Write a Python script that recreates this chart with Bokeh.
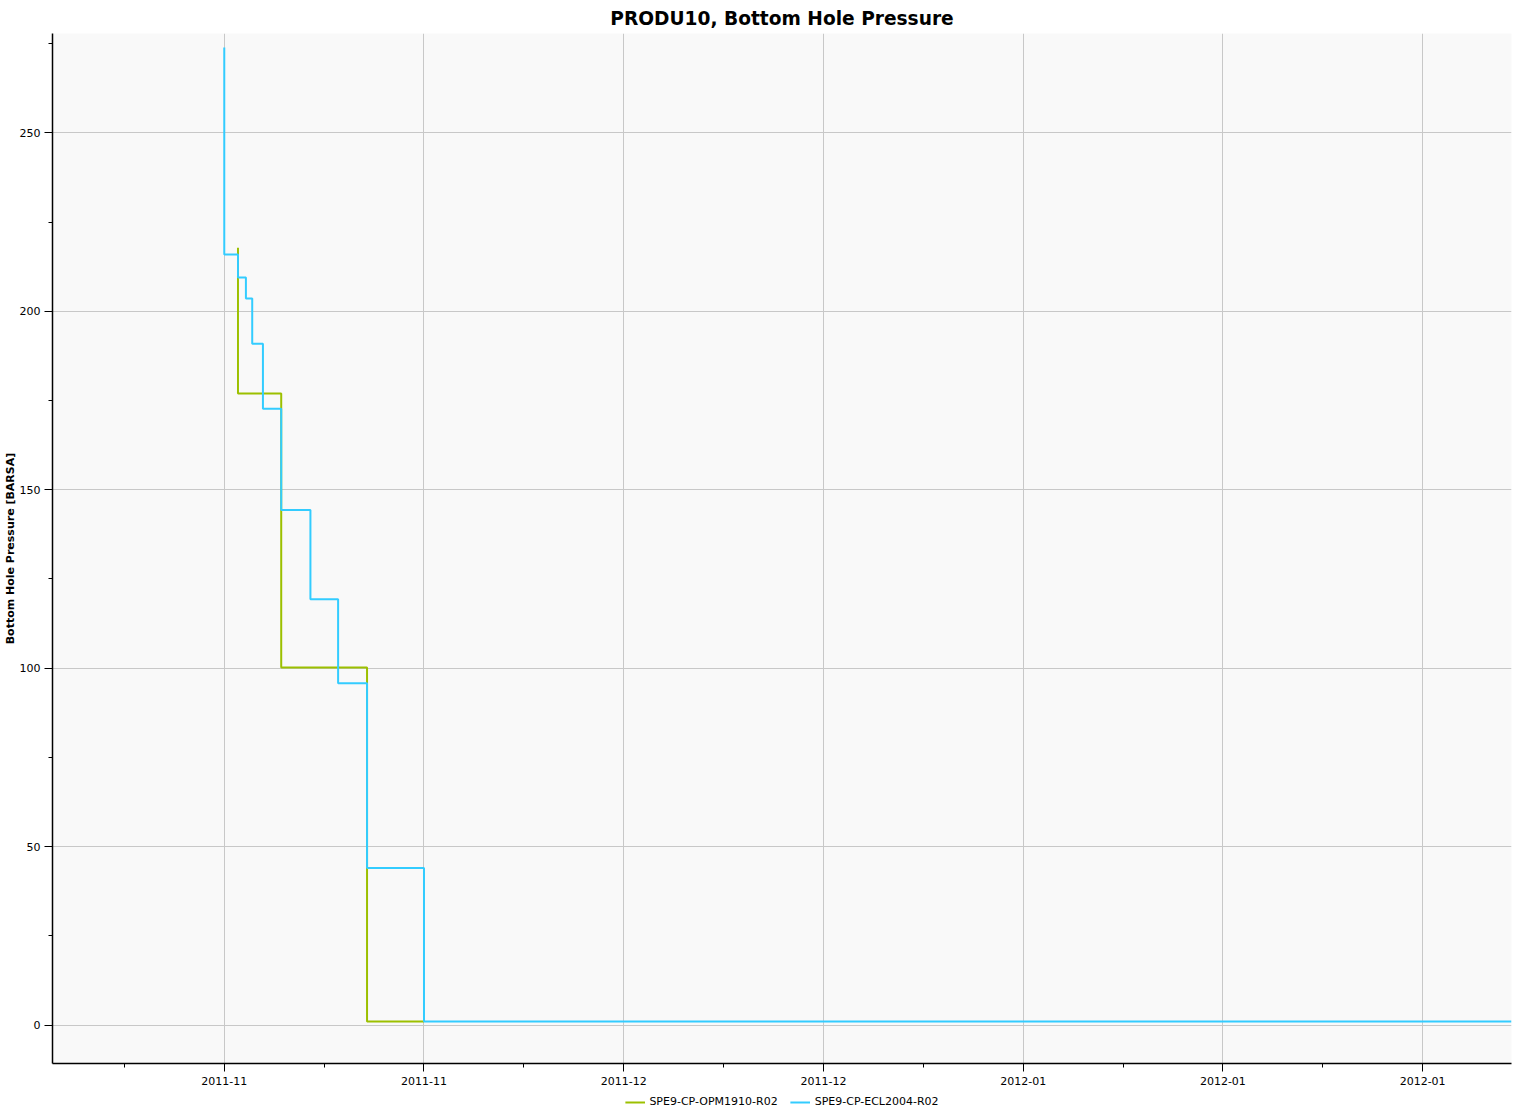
import pandas as pd
from bokeh.plotting import figure
from bokeh.layouts import column
from bokeh.models import (Range1d, FixedTicker, DatetimeTickFormatter, Legend,
                          LegendItem, ColumnDataSource)
from bokeh.embed import file_html
from bokeh.resources import INLINE

# ---- data ----
# (the OPM curve's tail at ~1 bar is hidden beneath the ECL curve after 2011-11-16)
opm_time = ["2011-11-02 01:12", "2011-11-05 08:42", "2011-11-11 22:30",
            "2011-11-16 07:12"]
opm_bhp = [217.8, 177.0, 100.2, 1.0]

ecl_time = ["2011-11-01 00:00", "2011-11-02 01:12", "2011-11-02 15:48",
            "2011-11-03 03:24", "2011-11-03 23:06", "2011-11-05 08:42",
            "2011-11-07 14:24", "2011-11-09 17:18", "2011-11-11 22:30",
            "2011-11-16 07:12", "2012-02-07 14:36"]
ecl_bhp = [273.9, 215.9, 209.5, 203.6, 190.9, 172.7, 144.3, 119.3, 95.8, 44.0, 1.0]

x_ticks = ["2011-11-01 00:00", "2011-11-16 07:12", "2011-12-01 14:24",
           "2011-12-16 21:36", "2012-01-01 04:48", "2012-01-16 12:00",
           "2012-01-31 19:12"]
y_ticks = [0, 50, 100, 150, 200, 250]
y_minor_ticks = [25, 75, 125, 175, 225, 275]

series_names = ["SPE9-CP-OPM1910-R02", "SPE9-CP-ECL2004-R02"]
series_colors = ["#9cc000", "#33ccff"]

# ---- build ----
def ms(s):
    return pd.Timestamp(s).value / 1e6

tick_ms = [ms(t) for t in x_ticks]
step = tick_ms[1] - tick_ms[0]
minor_ms = [t - step / 2 for t in tick_ms] + [tick_ms[-1] + step / 2]

x_start = tick_ms[0] - 0.86 * step
x_end = ms(ecl_time[-1])

src_opm = ColumnDataSource(dict(t=pd.to_datetime(opm_time), v=opm_bhp))
src_ecl = ColumnDataSource(dict(t=pd.to_datetime(ecl_time), v=ecl_bhp))

FONT = "DejaVu Sans"

p = figure(width=1517, height=1089, x_axis_type="datetime",
           output_backend="svg", toolbar_location=None,
           x_range=Range1d(x_start, x_end), y_range=Range1d(-10.76, 277.84),
           min_border_left=50, min_border_right=6, min_border_top=32,
           min_border_bottom=26)

p.title.text = "PRODU10, Bottom Hole Pressure"
p.title.align = "center"
p.title.text_font = FONT
p.title.text_font_size = "18.6px"
p.title.text_font_style = "bold"
p.title.text_color = "#000000"
p.title.offset = 0
p.title.standoff = 10

p.background_fill_color = "#f9f9f9"
p.border_fill_color = "#ffffff"
p.outline_line_color = None

r1 = p.step("t", "v", source=src_opm, mode="before", line_color=series_colors[0], line_width=2)
r2 = p.step("t", "v", source=src_ecl, mode="before", line_color=series_colors[1], line_width=2)

p.xaxis.ticker = FixedTicker(ticks=tick_ms, minor_ticks=minor_ms)
p.xaxis.formatter = DatetimeTickFormatter(
    milliseconds="%Y-%m", seconds="%Y-%m", minsec="%Y-%m", minutes="%Y-%m",
    hourmin="%Y-%m", hours="%Y-%m", days="%Y-%m", months="%Y-%m", years="%Y-%m")
p.yaxis.ticker = FixedTicker(ticks=y_ticks, minor_ticks=y_minor_ticks)

for ax in (p.xaxis[0], p.yaxis[0]):
    ax.axis_line_color = "#000000"
    ax.axis_line_width = 1.5
    ax.major_tick_line_color = "#000000"
    ax.minor_tick_line_color = "#000000"
    ax.major_tick_out = 8
    ax.major_tick_in = 0
    ax.minor_tick_out = 4
    ax.minor_tick_in = 0
    ax.major_label_text_font = FONT
    ax.major_label_text_font_size = "11px"
    ax.major_label_text_color = "#000000"

p.xaxis.major_label_standoff = 5
p.yaxis.major_label_standoff = 4
p.yaxis.axis_label = "Bottom Hole Pressure [BARSA]"
p.yaxis.axis_label_text_font = FONT
p.yaxis.axis_label_text_font_size = "11px"
p.yaxis.axis_label_text_font_style = "bold"
p.yaxis.axis_label_text_color = "#000000"
p.yaxis.axis_label_standoff = 0

p.xgrid.ticker = FixedTicker(ticks=tick_ms)
p.ygrid.ticker = FixedTicker(ticks=y_ticks)
p.grid.grid_line_color = "#c8c8c8"
p.grid.grid_line_width = 1

# legend strip below the chart, centred on the plot area
q = figure(width=1517, height=24, output_backend="svg", toolbar_location=None,
           x_range=Range1d(0, 1), y_range=Range1d(0, 1),
           min_border_left=50, min_border_right=6, min_border_top=0,
           min_border_bottom=0)
q.axis.visible = False
q.grid.visible = False
q.outline_line_color = None
q.background_fill_color = "#ffffff"
q.border_fill_color = "#ffffff"
# single-point proxies (draw no segment) so the legend can show line swatches
k1 = q.line(x=[opm_bhp[-1]], y=[opm_bhp[-1]], line_color=series_colors[0], line_width=2)
k2 = q.line(x=[ecl_bhp[-1]], y=[ecl_bhp[-1]], line_color=series_colors[1], line_width=2)

legend = Legend(items=[LegendItem(label=series_names[0], renderers=[k1]),
                       LegendItem(label=series_names[1], renderers=[k2])],
                orientation="horizontal", location="top_center")
legend.label_text_font = FONT
legend.label_text_font_size = "11px"
legend.label_text_color = "#000000"
legend.glyph_width = 20
legend.glyph_height = 12
legend.label_height = 12
legend.label_standoff = 5
legend.spacing = 12
legend.padding = 0
legend.margin = 6
legend.border_line_color = None
legend.background_fill_alpha = 0
q.add_layout(legend, "center")

layout = column(p, q, spacing=0)

open("out.html", "w").write(file_html(layout, INLINE))
